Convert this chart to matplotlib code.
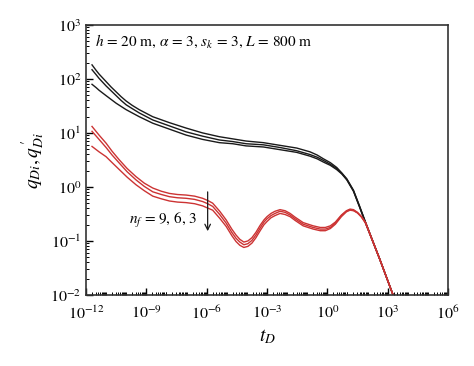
import numpy as np
import matplotlib
matplotlib.use("Agg")
import matplotlib.pyplot as plt
from matplotlib.ticker import LogLocator, LogFormatterMathtext, NullFormatter, FixedLocator

plt.rcParams['font.family'] = ['STIXGeneral', 'DejaVu Serif']
plt.rcParams['mathtext.fontset'] = 'stix'

# exponentes de t_D (curvas negras)
log_t_negro = [-11.7, -11.5, -11.35, -11.0, -10.75, -10.5, -10.25, -10.0, -9.7, -9.35,
               -8.68, -7.85, -7.02, -6.2, -5.37, -4.7, -4.04, -3.18, -2.35, -1.52,
               -0.86, -0.5, -0.19, 0.15, 0.47, 0.72, 0.97, 1.3, 1.6, 1.9, 2.6, 3.3]

# q_Di (negro), n_f = 9, 6, 3  (log10)
negro_9 = [2.26, 2.16, 2.09, 1.95, 1.85, 1.76, 1.67, 1.59, 1.51, 1.43,
           1.30, 1.19, 1.09, 1.00, 0.93, 0.89, 0.85, 0.82, 0.77, 0.72,
           0.65, 0.59, 0.52, 0.45, 0.36, 0.26, 0.15, -0.06, -0.35, -0.65, -1.33, -2.03]
negro_6 = [2.17, 2.08, 2.01, 1.87, 1.78, 1.69, 1.60, 1.52, 1.45, 1.37,
           1.24, 1.13, 1.02, 0.94, 0.87, 0.84, 0.80, 0.78, 0.73, 0.67,
           0.60, 0.55, 0.49, 0.42, 0.34, 0.25, 0.14, -0.07, -0.36, -0.66, -1.33, -2.03]
negro_3 = [1.90, 1.84, 1.79, 1.69, 1.62, 1.55, 1.49, 1.43, 1.37, 1.30,
           1.18, 1.07, 0.96, 0.88, 0.82, 0.80, 0.76, 0.74, 0.69, 0.64,
           0.57, 0.52, 0.46, 0.40, 0.32, 0.24, 0.13, -0.08, -0.37, -0.67, -1.33, -2.03]

# exponentes de t_D (curvas rojas)
log_t_rojo = [-11.7, -11.35, -11.0, -10.7, -10.34, -9.95, -9.51, -9.1, -8.68, -8.25,
              -7.85, -7.45, -7.02, -6.6, -6.2, -5.95, -5.7, -5.35, -5.03, -4.75,
              -4.54, -4.35, -4.15, -3.95, -3.75, -3.55, -3.34, -3.15, -3.0, -2.8,
              -2.6, -2.35, -2.1, -1.85, -1.6, -1.2, -0.7, -0.35, -0.1, 0.15,
              0.4, 0.7, 0.95, 1.13, 1.3, 1.5, 1.7, 1.9, 2.6, 3.3]

# q'_Di (rojo), n_f = 9, 6, 3  (log10)
rojo_9 = [1.12, 0.96, 0.81, 0.66, 0.50, 0.34, 0.19, 0.07, -0.02, -0.08,
          -0.12, -0.14, -0.15, -0.17, -0.21, -0.25, -0.30, -0.45, -0.61, -0.78,
          -0.89, -0.97, -1.02, -1.00, -0.94, -0.84, -0.71, -0.61, -0.55, -0.49,
          -0.45, -0.42, -0.44, -0.49, -0.56, -0.66, -0.72, -0.75, -0.75, -0.72,
          -0.65, -0.52, -0.44, -0.41, -0.42, -0.47, -0.55, -0.66, -1.33, -2.03]
rojo_6 = [1.03, 0.88, 0.73, 0.59, 0.44, 0.28, 0.13, 0.01, -0.09, -0.14,
          -0.18, -0.20, -0.21, -0.23, -0.27, -0.31, -0.36, -0.51, -0.67, -0.84,
          -0.95, -1.02, -1.07, -1.05, -0.99, -0.89, -0.76, -0.65, -0.59, -0.53,
          -0.49, -0.45, -0.47, -0.52, -0.59, -0.69, -0.75, -0.78, -0.78, -0.75,
          -0.67, -0.53, -0.45, -0.42, -0.43, -0.48, -0.55, -0.66, -1.33, -2.03]
rojo_3 = [0.75, 0.65, 0.56, 0.45, 0.32, 0.18, 0.04, -0.07, -0.17, -0.22,
          -0.26, -0.28, -0.29, -0.31, -0.35, -0.39, -0.43, -0.58, -0.73, -0.90,
          -1.01, -1.08, -1.12, -1.10, -1.04, -0.94, -0.81, -0.70, -0.64, -0.57,
          -0.53, -0.49, -0.51, -0.55, -0.62, -0.72, -0.78, -0.81, -0.81, -0.77,
          -0.69, -0.55, -0.46, -0.43, -0.44, -0.48, -0.56, -0.67, -1.33, -2.03]

t_negro = 10.0 ** np.array(log_t_negro)
t_rojo = 10.0 ** np.array(log_t_rojo)

fig = plt.figure(figsize=(4.74, 3.66), dpi=100)
ax = fig.add_axes([0.1814, 0.194, 0.7637, 0.738])

for q in (negro_9, negro_6, negro_3):
    ax.plot(t_negro, 10.0 ** np.array(q), color='#1a1a1a', lw=1.0)
for q in (rojo_9, rojo_6, rojo_3):
    ax.plot(t_rojo, 10.0 ** np.array(q), color='#cc3333', lw=1.0)

ax.set_xscale('log')
ax.set_yscale('log')
ax.set_xlim(1e-12, 1e6)
ax.set_ylim(1e-2, 1e3)

# eje x: etiquetas cada 3 decadas, marcas menores en cada decada
ax.xaxis.set_major_locator(FixedLocator(10.0 ** np.arange(-12, 7, 3)))
ax.xaxis.set_minor_locator(LogLocator(base=10, subs=np.arange(1, 10), numticks=300))
ax.yaxis.set_major_locator(LogLocator(base=10, numticks=30))
ax.yaxis.set_minor_locator(LogLocator(base=10, subs=np.arange(2, 10), numticks=200))
ax.xaxis.set_major_formatter(LogFormatterMathtext())
ax.yaxis.set_major_formatter(LogFormatterMathtext())
ax.xaxis.set_minor_formatter(NullFormatter())
ax.yaxis.set_minor_formatter(NullFormatter())

# solo los ejes izquierdo e inferior tienen marcas, hacia dentro
ax.tick_params(which='both', direction='in', top=False, right=False, labelsize=11.5)
ax.tick_params(which='major', length=5, width=1.0)
ax.tick_params(which='minor', length=2.5, width=0.7)
ax.tick_params(axis='x', pad=7)
for s in ax.spines.values():
    s.set_linewidth(1.2)
    s.set_color('#333333')

ax.set_xlabel(r'$t_D$', fontsize=14, labelpad=4)
ax.set_ylabel(r"$q_{Di}, q_{Di}^{\,\prime}$", fontsize=14, labelpad=2)

ax.text(0.025, 0.94,
        r'$h$ = 20 m, $\alpha$ = 3, $s_k$ = 3, $L$ = 800 m',
        transform=ax.transAxes, fontsize=11, va='center', ha='left')
ax.text(10 ** -9.85, 10 ** -0.63, r'$n_f$ = 9, 6, 3', fontsize=11,
        va='center', ha='left')
ax.annotate('', xy=(10 ** -5.95, 10 ** -0.87), xytext=(10 ** -5.95, 10 ** -0.04),
            arrowprops=dict(arrowstyle='->', color='#1a1a1a', lw=0.9))

fig.savefig('out.png', dpi=100)
